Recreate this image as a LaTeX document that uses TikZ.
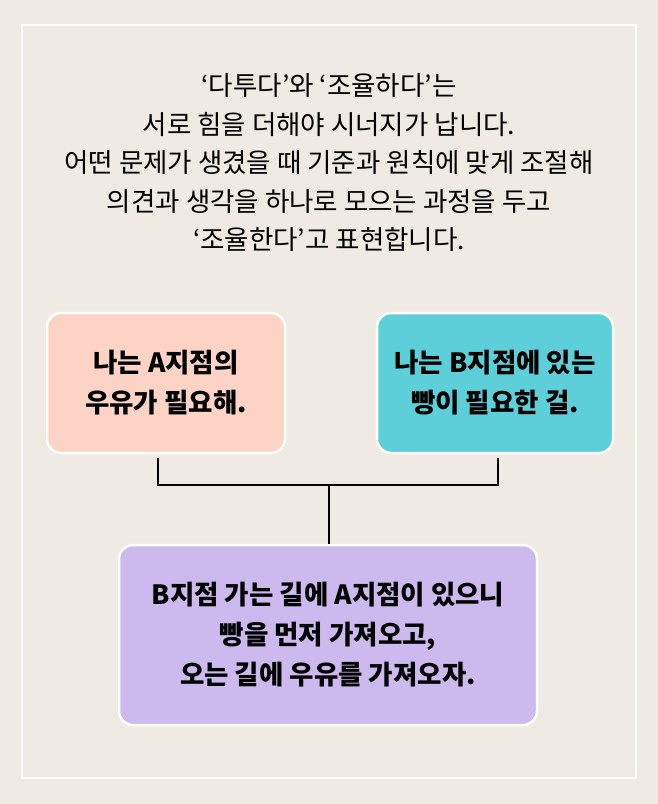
\documentclass[tikz,border=0pt]{standalone}
\usepackage{fontspec}
\setmainfont{Noto Sans CJK KR}
\usetikzlibrary{positioning,calc}
\definecolor{bgbeige}{HTML}{EFEAE4}
\definecolor{opink}{HTML}{FDD3C6}
\definecolor{oteal}{HTML}{5DCFD9}
\definecolor{opurple}{HTML}{CCB9EE}
\tikzset{box/.style={draw=white, line width=2.5pt, rounded corners=14pt, align=center,
    font=\fontsize{26.5}{40}\selectfont\bfseries, inner sep=0pt}}

\begin{document}
\begin{tikzpicture}[x=1pt,y=-1pt]
\fill[bgbeige] (0,0) rectangle (658,804);
\useasboundingbox (0,0) rectangle (658,804);
\draw[white, line width=2pt] (22,25) rectangle (636,778);
% intro text
\node (intro) [align=center, font=\fontsize{26.5}{38.5}\selectfont] at (329,163) {
‘다투다’와 ‘조율하다’는\\
서로 힘을 더해야 시너지가 납니다.\\
어떤 문제가 생겼을 때 기준과 원칙에 맞게 조절해\\
의견과 생각을 하나로 모으는 과정을 두고\\
‘조율한다’고 표현합니다.};
% boxes
\node (needA) [box, fill=opink, minimum width=238, minimum height=140] at (166,383)
    {나는 A지점의\\우유가 필요해.};
\node (needB) [box, fill=oteal, minimum width=236, minimum height=140] at (495,383)
    {나는 B지점에 있는\\빵이 필요한 걸.};
\node (plan) [box, fill=opurple, minimum width=418, minimum height=180] at (328,635)
    {B지점 가는 길에 A지점이 있으니\\빵을 먼저 가져오고,\\오는 길에 우유를 가져오자.};
% connectors
\coordinate (join) at (329,485);
\draw[line width=1.5pt] ($(needA.south)+(-8,4)$) |- (join) -| ($(needB.south)+(3,4)$);
\draw[line width=1.5pt] (join) -- (plan.north -| join);
\end{tikzpicture}
\end{document}
